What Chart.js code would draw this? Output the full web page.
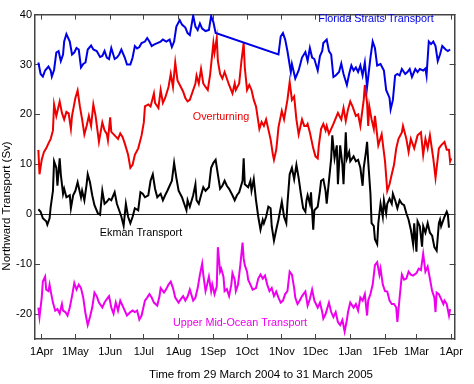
<!DOCTYPE html>
<html>
<head>
<meta charset="utf-8">
<script src="https://cdn.jsdelivr.net/npm/chart.js@4.4.1/dist/chart.umd.min.js"></script>
<style>
	html, body { margin: 0; padding: 0; background: #fff; }
	#wrap { width: 474px; height: 384px; }
</style>
</head>
<body>
<div id="wrap"><canvas id="chartTransporte" width="474" height="384"></canvas></div>
<script>
// days are counted from 1 April 2004
var monthDays = [0, 30, 61, 91, 122, 153, 183, 214, 244, 275, 306, 334, 365];
var monthLabels = ['1Apr', '1May', '1Jun', '1Jul', '1Aug', '1Sep', '1Oct', '1Nov', '1Dec', '1Jan', '1Feb', '1Mar', '1Apr'];
var yTicks = [-20, -10, 0, 10, 20, 30, 40];

var floridaDays = [-3, -1, 1, 3, 6, 8, 9, 11, 13, 15, 17, 19, 20, 22, 25, 27, 29, 31, 33, 35,
	37, 39, 41, 44, 46, 49, 52, 54, 56, 58, 60, 62, 65, 67, 69, 71, 74, 76, 79, 81,
	83, 85, 87, 89, 92, 94, 96, 98, 100, 103, 106, 108, 111, 114, 116, 118, 120, 123, 125, 128,
	130, 132, 135, 137, 139, 141, 143, 146, 149, 151, 153, 155, 211, 213, 215, 217, 219, 222, 223, 226,
	229, 232, 235, 237, 239, 241, 243, 246, 248, 250, 251, 254, 256, 258, 260, 262, 265, 267, 269, 272,
	274, 276, 278, 280, 282, 284, 286, 288, 290, 293, 295, 297, 299, 302, 305, 307, 310, 311, 313, 315,
	317, 319, 321, 324, 326, 328, 330, 333, 335, 337, 340, 342, 343, 345, 347, 349, 351, 353, 355, 357,
	360, 362, 364];
var floridaSv = [30.4, 28.1, 27.6, 28.8, 29.6, 28.8, 27.6, 28.9, 32.4, 32.7, 30.7, 32, 34.6, 36.1, 34.6, 32, 32.4, 33.3, 33, 29.4,
	30.1, 30.4, 33, 33.8, 33, 32.7, 31.5, 31.7, 32.7, 31.4, 31.1, 33.3, 31.1, 31.4, 32, 33, 31.4, 30, 30, 31.4,
	33.7, 33.2, 33.5, 34.3, 34.6, 35.3, 34.6, 33.7, 34, 34.3, 34.6, 35, 34.6, 35, 33.5, 34.6, 37.6, 38.9, 38, 37.4,
	36.3, 35.9, 39.8, 37.6, 36.9, 38.2, 37.2, 36.7, 36.9, 39.7, 38.5, 36.3, 32, 35.6, 36.3, 35, 32.7, 28.5, 30.1, 27.2,
	28.8, 31.4, 32.5, 30.7, 33.3, 31.4, 31.1, 28.8, 31.7, 32.7, 34.3, 35, 32.7, 32, 27.5, 27.8, 28.5, 30.2, 28.1, 25.9,
	28.1, 29.8, 28.8, 29.4, 28.5, 29.8, 27.8, 30.4, 25.5, 31.4, 34.6, 33.3, 29.8, 30.1, 28.8, 24.9, 23.3, 21, 22.9, 27.8,
	28.1, 27.8, 29.1, 28.1, 28.5, 29.1, 27.5, 29.1, 28.5, 29.1, 28.8, 29.2, 27.8, 34.6, 34.1, 34.6, 33.7, 30.7, 32, 33.7,
	33, 32.7, 33];

var overturningDays = [-3, -2, 0, 2, 4, 6, 8, 10, 11, 13, 16, 18, 20, 22, 24, 26, 27, 30, 32, 34,
	36, 38, 40, 42, 44, 46, 48, 51, 54, 56, 58, 59, 61, 62, 65, 68, 70, 72, 74, 77,
	79, 81, 83, 86, 89, 91, 92, 95, 97, 100, 101, 104, 106, 108, 110, 113, 115, 117, 119, 121,
	124, 126, 128, 130, 132, 135, 137, 138, 140, 142, 144, 146, 148, 150, 153, 154, 156, 157, 159, 161,
	163, 165, 167, 170, 172, 173, 176, 178, 180, 181, 183, 185, 187, 189, 191, 194, 196, 198, 200, 202,
	204, 206, 207, 209, 210, 211, 214, 216, 219, 221, 223, 225, 227, 229, 232, 234, 236, 237, 239, 242,
	244, 246, 247, 249, 251, 253, 254, 256, 260, 264, 267, 269, 271, 273, 275, 277, 280, 282, 284, 287,
	288, 290, 291, 292, 294, 296, 297, 300, 303, 306, 308, 310, 312, 314, 316, 318, 321, 322, 325, 327,
	329, 332, 335, 338, 340, 342, 344, 346, 349, 351, 354, 356, 359, 361, 363, 364, 365];
var overturningSv = [12.9, 8.0, 10.9, 12.5, 13.2, 14.2, 15.1, 16.8, 22.0, 19.7, 22.6, 20.3, 19.0, 20.5, 20.2, 17.1, 19.7, 23.3, 24.8, 21.6,
	19.0, 16, 17.7, 19.7, 17.7, 22.0, 19.7, 14.5, 18.4, 16.8, 16.1, 14.8, 19.4, 16.5, 15.8, 15.1, 16.2, 15.5, 14.2, 11.9,
	9.3, 9.9, 11.9, 13.2, 15.8, 18.4, 21.6, 22.0, 21.6, 24.2, 22.3, 21.3, 24.9, 22.3, 23.3, 25.5, 28.1, 25.5, 30.4, 26.8,
	25.5, 24.6, 23.3, 22.6, 22.9, 24.9, 26.2, 27.8, 26.2, 29.1, 26.2, 25.5, 24.9, 27.8, 34.3, 32.4, 35.3, 30.7, 28.1, 27.2,
	28.5, 27.2, 25.9, 24.2, 26.2, 24.9, 26.2, 30.7, 34.3, 29.4, 24.9, 25.9, 24.9, 22.9, 21.6, 17.1, 18.5, 17.7, 19, 17,
	15, 12, 10.9, 12.9, 15, 17.4, 20.7, 19, 22.9, 26.5, 22.9, 23.6, 19, 16, 19, 17.7, 17.7, 18.1, 16.4, 13.2,
	11.6, 11.2, 13.8, 17.1, 18.1, 16.8, 17.7, 16.1, 18.1, 20.3, 19, 21.3, 18.7, 21, 22.6, 21.6, 19.7, 20, 17.7, 22.9,
	25.9, 22.3, 17.7, 21.6, 19, 17.1, 19.7, 13.8, 16, 10.6, 4.7, 6.0, 8.0, 9.9, 13.2, 15.1, 16.4, 17.7, 15.1, 12.5,
	15.1, 13.2, 15.8, 16.4, 11.9, 15.1, 13.2, 15.8, 11.2, 7.3, 13.2, 13.8, 14.5, 12.9, 12.9, 10.6, 11.2];

var ekmanDays = [-3, -1, 1, 4, 5, 7, 8, 10, 11, 13, 14, 16, 17, 19, 20, 22, 25, 26, 28, 30,
	32, 33, 35, 36, 38, 40, 41, 43, 45, 47, 50, 52, 54, 56, 58, 60, 62, 65, 67, 69,
	71, 73, 75, 77, 79, 81, 83, 86, 88, 90, 92, 95, 97, 99, 101, 103, 106, 108, 110, 112,
	114, 116, 118, 120, 122, 125, 127, 129, 130, 132, 135, 137, 138, 140, 142, 144, 146, 149, 151, 153,
	155, 157, 159, 161, 163, 165, 167, 170, 172, 174, 176, 179, 180, 181, 184, 186, 187, 189, 191, 193,
	195, 197, 198, 200, 202, 204, 205, 207, 209, 211, 214, 216, 218, 219, 221, 223, 225, 227, 229, 231,
	233, 235, 236, 237, 239, 240, 242, 243, 246, 248, 249, 251, 253, 254, 256, 258, 259, 261, 263, 264,
	266, 268, 269, 271, 272, 274, 275, 278, 280, 282, 284, 286, 287, 289, 290, 291, 293, 294, 296, 297,
	299, 300, 302, 304, 305, 307, 308, 310, 312, 313, 315, 317, 319, 321, 323, 325, 327, 329, 331, 332,
	334, 335, 337, 339, 340, 342, 344, 346, 348, 350, 352, 354, 355, 356, 359, 361, 362, 363];
var ekmanSv = [1.0, 0.5, -0.8, -1.4, -2.1, -0.8, 1.5, 4.7, 10.6, 9.3, 5.7, 11.2, 8.0, 4.1, 5.1, 3.4, 3.8, 1.2, 3.8, 4.7,
	6.4, 5.4, 3.4, 4.7, 2.8, 6.0, 8.0, 6.4, 3.8, 1.8, 0.2, -0.1, 4.7, 2.1, 2.5, 3.1, 2.8, 4.4, 2.1, 0.8,
	-0.5, -2.3, 2.1, -0.5, -1.8, -0.5, 1.2, 0.8, 4.4, 4.1, 3.4, 3.8, 6.7, 8.0, 5.1, 3.4, 4.1, 2.8, 3.8, 4.7,
	5.7, 6.7, 10.3, 7.3, 4.7, 3.4, 2.1, 0.8, 2.8, 1.5, 3.8, 6.0, 2.8, 2.1, 3.8, 5.4, 4.7, 5.4, 9.3, 10.3,
	10.9, 8.0, 5.1, 5.7, 6.7, 5.7, 5.1, 3.8, 2.8, 3.8, 4.4, 6.7, 11.2, 6.0, 5.4, 6.7, 4.7, 7.0, 2.8, -0.5,
	-3.1, -1.1, -1.8, -0.5, 1.5, 1.2, -2.4, -5.3, -3.1, -1.1, 2.5, -0.5, -1.8, 2.1, 8.0, 9.3, 7.0, 9.9, 7.3, 4.1,
	1.2, 0.5, 2.8, 3.8, 2.1, 4.4, -3.1, 0.8, 1.5, 4.7, 6.7, 7.0, 4.7, 2.1, 6.7, 11.2, 15.8, 11.2, 13.8, 6.0,
	13.8, 9.9, 6.0, 16.4, 11.2, 12.5, 10.6, 11.6, 10.6, 10.9, 9.3, 5.7, 9.3, 12.5, 14.5, 10.6, 4.1, -1.8, -2.4, -5,
	-6, -1.8, 2.1, -0.5, 2.8, 0.2, 2.1, 3.1, 2.1, 4.1, 2.8, 1.2, 2.8, 2.1, 1.8, 0.2, -1.1, -3.1, -6, -1.8,
	-7.5, -1.4, -2.4, -6.5, -2.4, -3.7, -1.8, -3.7, -4.3, -6.6, -7.3, -1.8, -1.1, -2.4, -0.5, 0.5, -0.1, -2.7];

var umoDays = [-3, -2, 0, 1, 3, 4, 6, 7, 8, 10, 12, 14, 16, 18, 19, 21, 23, 25, 27, 29,
	31, 33, 35, 37, 39, 41, 43, 45, 47, 49, 51, 54, 56, 58, 60, 62, 64, 66, 68, 70,
	72, 74, 76, 79, 81, 83, 85, 87, 89, 92, 94, 96, 98, 100, 103, 105, 106, 109, 111, 113,
	115, 117, 119, 122, 124, 126, 128, 130, 132, 135, 137, 139, 141, 143, 144, 146, 147, 149, 151, 152,
	154, 156, 157, 159, 160, 162, 163, 165, 167, 169, 170, 172, 173, 175, 177, 179, 180, 181, 183, 184,
	186, 188, 191, 193, 195, 197, 199, 201, 203, 205, 207, 209, 211, 213, 215, 217, 219, 221, 223, 225,
	226, 228, 230, 232, 235, 237, 239, 241, 243, 246, 248, 250, 251, 253, 256, 258, 260, 262, 264, 266,
	268, 270, 272, 273, 275, 278, 280, 282, 284, 286, 288, 290, 291, 293, 295, 297, 299, 301, 302, 304,
	306, 308, 310, 312, 314, 316, 317, 319, 321, 323, 325, 327, 329, 331, 334, 336, 338, 340, 342, 344,
	346, 348, 350, 351, 352, 354, 356, 358, 359, 361, 363, 364];
var umoSv = [-18.7, -20.6, -16.7, -13.5, -12.5, -15.1, -15.4, -14.1, -15.4, -17.7, -19.3, -19.0, -19.9, -18.0, -19.3, -19.6, -20.3, -18.7, -16.4, -13.8,
	-15.1, -14.1, -14.8, -16.7, -19.9, -22.2, -20.6, -18.7, -15.7, -16.4, -17.7, -18.7, -17.7, -17.0, -16.4, -18.7, -19.9, -17.7, -19.3, -17.3,
	-18.3, -19.3, -20.3, -19.6, -19.3, -19.6, -19.3, -21.1, -20.3, -17.3, -16.7, -16.0, -16.7, -17.7, -18.3, -16.4, -14.8, -15.7, -15, -14.1,
	-13.5, -14.8, -16.7, -17.7, -17.0, -16.4, -17.3, -16.5, -15.1, -17.3, -16.7, -14.8, -12.1, -9.9, -12.1, -15.4, -14.5, -12.5, -15.4, -14.1,
	-16.0, -14.5, -6.6, -11.5, -10.9, -12.5, -15.4, -15, -16.4, -14.1, -11.8, -13.1, -15.4, -14.1, -10.2, -5.7, -8.9, -10.2, -11.5, -13.1,
	-14.1, -15.1, -14.8, -12.9, -12.1, -12.9, -12.3, -14.1, -15.4, -14.8, -16.4, -15.5, -16.7, -17.7, -17.3, -16.0, -15.4, -11.5, -12.1, -14.8,
	-16.7, -18.0, -17.3, -16.4, -15.5, -18.3, -17, -15.1, -17.3, -18.7, -17.7, -19.6, -20.9, -20, -17.7, -19.6, -20.6, -19.6, -21.6, -22.2,
	-21.2, -23.5, -21.2, -19.6, -17.7, -18.7, -18.0, -19.3, -16.7, -17.3, -16.0, -20.3, -17.3, -16.0, -14.1, -10.2, -9.6, -12.1, -10.9, -14.1,
	-15.4, -15.5, -17.3, -18.0, -18.0, -18.7, -21.6, -16.7, -12.1, -13.1, -12.9, -11.5, -12.1, -12.3, -11.8, -10.9, -11.2, -7.9, -11.5, -10.5,
	-12.9, -15.4, -16.7, -19.6, -15.7, -16.0, -17.0, -18.0, -17.3, -18.0, -20.3, -19.0];

var fontFamily = '"Liberation Sans", Arial, Helvetica, sans-serif';
var axisColor = '#444';

var seriesLabels = [
	{ text: 'Florida Straits Transport', color: '#0000e6', x: 376, y: 19 },
	{ text: 'Overturning', color: '#ee0000', x: 221, y: 117 },
	{ text: 'Ekman Transport', color: '#000000', x: 141, y: 233 },
	{ text: 'Upper Mid-Ocean Transport', color: '#ee00ee', x: 240, y: 323 }
];

function pontos(days, values) {
	return days.map(function(d, i) {
		return { x: d, y: values[i] };
	});
}

function serie(label, days, values, color) {
	return {
		label: label,
		data: pontos(days, values),
		borderColor: color,
		backgroundColor: color,
		borderWidth: 2,
		pointRadius: 0,
		tension: 0,
		fill: false
	};
}

function monthTicks(scale) {
	scale.ticks = monthDays.map(function(v) { return { value: v }; });
}

function valueTicks(scale) {
	scale.ticks = yTicks.map(function(v) { return { value: v }; });
}

var rotulos = {
	id: 'rotulos',
	afterDraw: function(chart) {
		var ctx = chart.ctx;
		ctx.save();
		ctx.textAlign = 'center';
		ctx.textBaseline = 'middle';
		ctx.font = '10.8px ' + fontFamily;
		seriesLabels.forEach(function(r) {
			ctx.fillStyle = r.color;
			ctx.fillText(r.text, r.x, r.y);
		});
		ctx.fillStyle = '#000';
		ctx.font = '11.5px ' + fontFamily;
		ctx.fillText('Time from 29 March 2004 to 31 March 2005', 261, 375);
		ctx.translate(7, 206);
		ctx.rotate(-Math.PI / 2);
		ctx.fillText('Northward Transport (Sv)', 0, 0);
		ctx.restore();
	}
};

var frameBorder = { color: axisColor, width: 1.5 };

new Chart(document.getElementById('chartTransporte'), {
	type: 'line',
	data: {
		datasets: [
			serie('Ekman Transport', ekmanDays, ekmanSv, '#000000'),
			serie('Florida Straits Transport', floridaDays, floridaSv, '#0000e6'),
			serie('Overturning', overturningDays, overturningSv, '#ee0000'),
			serie('Upper Mid-Ocean Transport', umoDays, umoSv, '#ee00ee')
		]
	},
	options: {
		responsive: false,
		devicePixelRatio: 1,
		animation: false,
		layout: { padding: 0, autoPadding: false },
		plugins: {
			legend: { display: false },
			tooltip: { enabled: false }
		},
		scales: {
			x: {
				type: 'linear',
				position: 'bottom',
				min: -6,
				max: 368,
				afterBuildTicks: monthTicks,
				afterFit: function(s) { s.height = 45; },
				ticks: {
					font: { family: fontFamily, size: 11 },
					color: '#000',
					padding: 11,
					maxRotation: 0,
					autoSkip: false,
					callback: function(v, i) { return monthLabels[i]; }
				},
				grid: { drawOnChartArea: false, tickLength: -5, tickColor: axisColor },
				border: frameBorder
			},
			xTop: {
				type: 'linear',
				position: 'top',
				min: -6,
				max: 368,
				afterBuildTicks: monthTicks,
				afterFit: function(s) { s.height = 5; },
				ticks: { display: false },
				grid: { drawOnChartArea: false, tickLength: -5, tickColor: axisColor },
				border: frameBorder
			},
			y: {
				type: 'linear',
				position: 'left',
				min: -25,
				max: 40,
				afterBuildTicks: valueTicks,
				afterFit: function(s) { s.width = 35; },
				ticks: {
					font: { family: fontFamily, size: 11 },
					color: '#000',
					padding: 8
				},
				grid: {
					drawOnChartArea: true,
					tickLength: -5,
					tickColor: axisColor,
					color: function(c) {
						return c.tick && c.tick.value === 0 ? '#222' : 'rgba(0,0,0,0)';
					}
				},
				border: frameBorder
			},
			yRight: {
				type: 'linear',
				position: 'right',
				min: -25,
				max: 40,
				afterBuildTicks: valueTicks,
				afterFit: function(s) { s.width = 12; },
				ticks: { display: false },
				grid: { drawOnChartArea: false, tickLength: -5, tickColor: axisColor },
				border: frameBorder
			}
		}
	},
	plugins: [rotulos]
});
</script>
</body>
</html>
